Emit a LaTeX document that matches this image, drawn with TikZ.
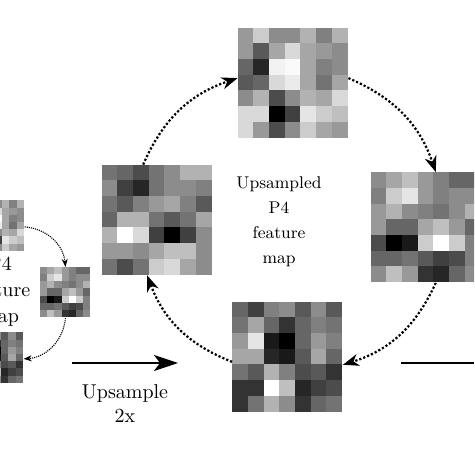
\documentclass[tikz,border=0pt]{standalone}
\usetikzlibrary{arrows.meta}

% cells of a 7x7 feature map, laid over the node #1
\newcommand{\fmapcells}[3]{%
  \begin{scope}[shift={(#1.north west)}]
    \foreach \cells [count=\row] in #3
      \foreach \w [count=\col] in \cells
        \fill[white!\w!black] ({(\col-1)*#2},{-(\row-1)*#2}) rectangle ++(#2,-#2);
  \end{scope}}

\def\topcells{{60,80,55,55,70,50,70},{60,35,65,85,65,60,55},{40,15,95,98,65,50,55},
  {35,40,85,92,65,45,65},{55,70,30,55,70,65,85},{85,85,0,25,90,80,75},{85,60,30,55,80,65,60}}
\def\leftcells{{45,40,30,45,55,70,70},{55,25,15,45,55,55,50},{45,35,50,60,65,50,35},
  {40,70,70,45,35,45,65},{70,100,85,25,0,25,55},{60,60,55,65,75,75,55},{45,30,45,80,85,65,55}}
\def\rightcells{{55,65,75,60,50,40,40},{50,80,90,60,50,55,55},{60,70,55,50,45,55,70},
  {60,40,40,65,75,60,40},{30,0,10,80,100,80,50},{40,40,45,35,25,30,50},{55,75,60,20,15,40,55}}
\def\botcells{{40,25,50,55,35,55,35},{45,65,40,20,40,50,45},{60,90,10,0,40,60,50},
  {65,65,15,10,35,65,40},{45,35,70,50,30,35,20},{20,20,100,75,15,25,30},{20,45,70,55,20,40,45}}

\begin{document}
\begin{tikzpicture}[x=0.5pt,y=0.5pt]
  \tikzset{ fmap/.style={inner sep=0pt,minimum size=55pt},
    sfmap/.style={inner sep=0pt,minimum size=25.2pt},
    cyc/.style={line width=1.1pt,dash pattern=on 1.1pt off 1pt,
      -{Stealth[length=8pt,width=6pt,inset=2.5pt]}},
    scyc/.style={line width=0.55pt,dash pattern=on 0.55pt off 0.5pt,
      -{Stealth[length=4pt,width=3pt,inset=1.2pt]}},
    ups/.style={line width=1pt,-{Stealth[length=12pt,width=8pt,inset=3pt]}},
    lbl/.style={align=center,font=\fontsize{10}{12}\selectfont},
  }
  \useasboundingbox (0,0) rectangle (474,474);
  \clip (0,0) rectangle (474,474);

  % the upsampled maps
  \node[fmap] (mT) at (293,391) {};
  \node[fmap] (mR) at (426,246.5) {};
  \node[fmap] (mB) at (287.5,117) {};
  \node[fmap] (mL) at (157,254) {};
  \fmapcells{mT}{15.714}{\topcells}
  \fmapcells{mR}{15.714}{\rightcells}
  \fmapcells{mB}{15.714}{\botcells}
  \fmapcells{mL}{15.714}{\leftcells}

  % the small maps
  \node[sfmap] (sT) at (-1,248) {};
  \node[sfmap] (sR) at (65.5,181.5) {};
  \node[sfmap] (sB) at (-2,116) {};
  \fmapcells{sT}{7.2}{\topcells}
  \fmapcells{sR}{7.2}{\rightcells}
  \fmapcells{sB}{7.2}{\botcells}

  % labels
  \node[lbl,font=\fontsize{8.5}{12.5}\selectfont] (cap) at (279,252) {Upsampled\\P4\\feature\\map};
  \node[lbl,font=\fontsize{10}{13}\selectfont] (scap) at (0,182) {P4\\feature\\map};

  % the cycle
  \draw[cyc] (mT.5) to[bend left=24] (mR.80);
  \draw[cyc] (mR.280) to[bend left=24] (mB.-8);
  \draw[cyc] (mB.185) to[bend left=24] (mL.260);
  \draw[cyc] (mL.104) to[bend left=24] (mT.175);

  \draw[scyc] (sT.-2) to[bend left=40] (sR.north);
  \draw[scyc] (sR.south) to[bend left=40] (sB.-2);

  % upsampling
  \coordinate (u0) at (72,111);
  \coordinate (u1) at (178,111);
  \draw[ups] (u0) -- (u1);
  \node[lbl] (ucap) at (125,70) {Upsample\\2x};
  \coordinate (v0) at (401,111);
  \coordinate (v1) at (474,111);
  \draw[line width=1pt] (v0) -- (v1);
\end{tikzpicture}
\end{document}
